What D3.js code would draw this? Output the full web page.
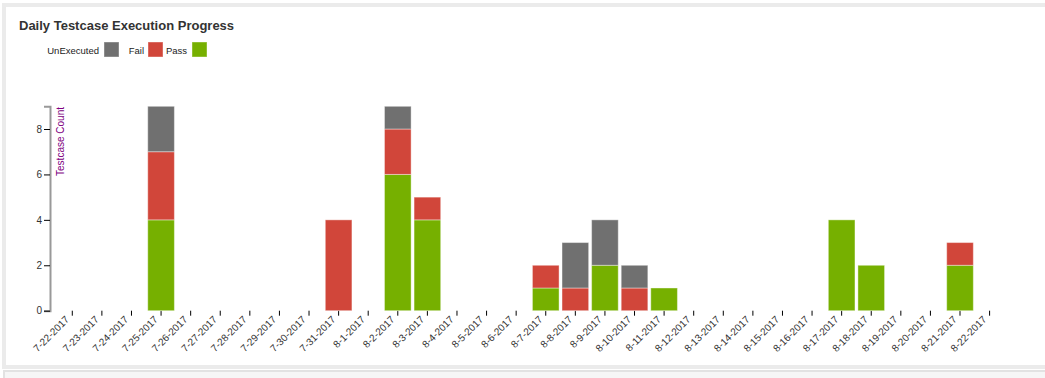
<!DOCTYPE html>
<html lang="en">
<head>
<meta charset="UTF-8">
<title>Daily Testcase Execution Progress</title>
<script src="https://d3js.org/d3.v7.min.js"></script>
<style>
    body { margin: 0; background: #fff; font-family: Arial, "Liberation Sans", sans-serif; }
    svg { display: block; }
    .y-axis .domain { stroke: #999; stroke-width: 2; }
    .y-axis .tick line { stroke: #000; }
    .x-axis .domain { display: none; }
    .x-axis .tick line { stroke: #000; }
    .tick text { fill: #333; font-size: 10px; font-family: Arial, "Liberation Sans", sans-serif; }
</style>
</head>
<body>
<div id="chart"></div>
<script>
// categories (one per day)
const dates = ['7-22-2017','7-23-2017','7-24-2017','7-25-2017','7-26-2017','7-27-2017','7-28-2017',
    '7-29-2017','7-30-2017','7-31-2017','8-1-2017','8-2-2017','8-3-2017','8-4-2017','8-5-2017',
    '8-6-2017','8-7-2017','8-8-2017','8-9-2017','8-10-2017','8-11-2017','8-12-2017','8-13-2017',
    '8-14-2017','8-15-2017','8-16-2017','8-17-2017','8-18-2017','8-19-2017','8-20-2017',
    '8-21-2017','8-22-2017'];

// series values, same order as dates
const pass       = [0,0,0,4,0,0,0,0,0,0,0,6,4,0,0,0,1,0,2,0,1,0,0,0,0,0,4,2,0,0,2,0];
const fail       = [0,0,0,3,0,0,0,0,0,4,0,2,1,0,0,0,1,1,0,1,0,0,0,0,0,0,0,0,0,0,1,0];
const unexecuted = [0,0,0,2,0,0,0,0,0,0,0,1,0,0,0,0,0,2,2,1,0,0,0,0,0,0,0,0,0,0,0,0];

const yTicks = [0, 2, 4, 6, 8];
const yMax = 9;

const seriesKeys = ['Pass', 'Fail', 'UnExecuted'];
const legendOrder = ['UnExecuted', 'Fail', 'Pass'];
const colors = { Pass: '#76b000', Fail: '#d1463a', UnExecuted: '#707070' };

const W = 1045, H = 378;
const svg = d3.select('#chart').append('svg').attr('width', W).attr('height', H);

// panel frames
svg.append('rect').attr('x', 4).attr('y', 5).attr('width', 1100).attr('height', 362)
    .attr('fill', '#fff').attr('stroke', '#ebebeb').attr('stroke-width', 4);
svg.append('rect').attr('x', 4).attr('y', 371).attr('width', 1100).attr('height', 20)
    .attr('fill', '#f6f6f6').attr('stroke', '#e2e2e2').attr('stroke-width', 2);

svg.append('text').attr('x', 19).attr('y', 30)
    .attr('font-size', 13).attr('font-weight', 'bold').attr('fill', '#333')
    .text('Daily Testcase Execution Progress');

// legend
const legendPos = { UnExecuted: { tx: 99, sx: 104 }, Fail: { tx: 144, sx: 148 }, Pass: { tx: 187, sx: 192 } };
legendOrder.forEach(k => {
    svg.append('text').attr('x', legendPos[k].tx).attr('y', 54)
        .attr('text-anchor', 'end').attr('font-size', 9.5).attr('fill', '#222').text(k);
    svg.append('rect').attr('x', legendPos[k].sx).attr('y', 42).attr('width', 15).attr('height', 15)
        .attr('fill', colors[k]).attr('stroke', '#fff').attr('stroke-opacity', 0.4);
});

const x = d3.scaleBand().domain(dates).range([57.5, 1004.4]).paddingInner(0.1).paddingOuter(0.05);
const y = d3.scaleLinear().domain([0, yMax]).range([310.7, 106.3]);

const xAxis = svg.append('g').attr('class', 'x-axis')
    .attr('transform', 'translate(0,310.7)')
    .call(d3.axisBottom(x).tickSize(5));
xAxis.selectAll('.tick text')
    .attr('x', 0).attr('y', 0).attr('dy', '0.35em')
    .attr('text-anchor', 'end')
    .attr('transform', 'translate(-5,7) rotate(-45)');

const yAxis = svg.append('g').attr('class', 'y-axis')
    .attr('transform', 'translate(50,0)')
    .call(d3.axisLeft(y).tickValues(yTicks).tickPadding(2));

svg.append('text')
    .attr('transform', 'translate(63.5,107) rotate(-90)')
    .attr('text-anchor', 'end').attr('font-size', 10).attr('fill', '#800080')
    .text('Testcase Count');

const table = dates.map((d, i) => ({ date: d, Pass: pass[i], Fail: fail[i], UnExecuted: unexecuted[i] }));
const stacked = d3.stack().keys(seriesKeys)(table);

svg.append('g').selectAll('g').data(stacked).join('g')
    .attr('fill', s => colors[s.key])
    .selectAll('rect').data(s => s.filter(d => d[1] > d[0])).join('rect')
    .attr('x', d => x(d.data.date))
    .attr('width', x.bandwidth())
    .attr('y', d => y(d[1]))
    .attr('height', d => y(d[0]) - y(d[1]))
    .attr('stroke', '#fff').attr('stroke-opacity', 0.4).attr('stroke-width', 1);
</script>
</body>
</html>
